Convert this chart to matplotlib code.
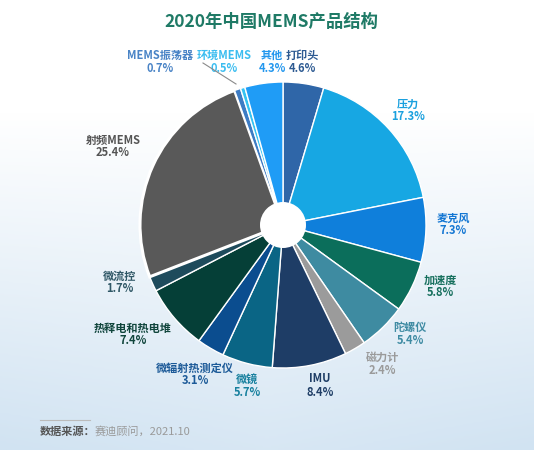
import numpy as np
import matplotlib
matplotlib.use('Agg')
import matplotlib.pyplot as plt
from matplotlib.patches import Circle
from matplotlib.colors import LinearSegmentedColormap

plt.rcParams['font.family'] = ['Noto Sans CJK SC', 'DejaVu Sans']

# ---------------- data ----------------
categories = ['打印头', '压力', '麦克风', '加速度', '陀螺仪', '磁力计', 'IMU', '微镜',
              '微辐射热测定仪', '热释电和热电堆', '微流控', '射频MEMS',
              'MEMS振荡器', '环境MEMS', '其他']
values = [4.6, 17.3, 7.3, 5.8, 5.4, 2.4, 8.4, 5.7, 3.1, 7.4, 1.7, 25.4, 0.7, 0.5, 4.3]

title = '2020年中国MEMS产品结构'
source_bold = '数据来源：'
source_text = '赛迪顾问，2021.10'

# ---------------- styles / layout ----------------
colors = ['#2F66A8', '#17A7E3', '#0F7FDB', '#0B6E5B', '#3E8BA1', '#9B9B9B', '#1E3D66',
          '#0A6585', '#0B4D8F', '#053F37', '#1E4B5C', '#595959', '#3D7CC4', '#35C3F2',
          '#1F9CF6']
label_colors = ['#2D5A92', '#1AA0DE', '#1477D3', '#17705E', '#3F8BA3', '#9A9A9A', '#1F3E66',
                '#17809E', '#1C5A98', '#10453C', '#2F5766', '#555555', '#4A84C6', '#3BBDF0',
                '#2397EE']
# label centre positions in image pixels (x, y of the name line)
label_xy = [(302, 55), (408, 104), (453, 218), (440, 280), (410, 327), (382, 357),
            (320, 379), (247, 379), (195, 368), (133, 328), (120, 276), (113, 140),
            (160, 55), (224, 55), (272, 55)]

W, H = 534, 450
fig = plt.figure(figsize=(W / 100, H / 100), dpi=100)
ax = fig.add_axes([0, 0, 1, 1])

# background gradient
gy = np.linspace(0, 1, 256)[:, None]
gx = np.linspace(-1, 1, 256)[None, :]
grad = np.clip((gy - 0.25) / 0.75, 0, 1) ** 1.0 * (0.85 + 0.15 * np.abs(gx))
bg = LinearSegmentedColormap.from_list('bg', ['#FFFFFF', '#D1E3F2'])
ax.imshow(grad, extent=(0, W, 0, H), origin='upper', cmap=bg, vmin=0, vmax=1,
          aspect='auto', zorder=0)

cx, cy, R = 283, H - 225, 143
wedges, _ = ax.pie(values, colors=colors, startangle=90, counterclock=False,
                   center=(cx, cy), radius=R,
                   wedgeprops=dict(edgecolor='white', linewidth=1.0))
for w in wedges:
    w.set_zorder(2)
wedges[categories.index('射频MEMS')].set_linewidth(2.2)
ax.add_patch(Circle((cx, cy), 23, facecolor='white', edgecolor='none', zorder=3))

for name, val, (lx, ly), c in zip(categories, values, label_xy, label_colors):
    ax.text(lx, H - ly, name, ha='center', va='center', fontsize=8,
            fontweight='bold', color=c, zorder=4)
    ax.text(lx, H - ly - 13, f'{val}%', ha='center', va='center', fontsize=8,
            fontweight='bold', color=c, zorder=4)

# leader line for MEMS振荡器
ax.plot([203, 236], [H - 63, H - 84], color='#8A8A8A', lw=0.8, zorder=4)

# title
ax.text(271, H - 22, title, ha='center', va='center', fontsize=12.5,
        fontweight='bold', color='#1F7A66', zorder=4)

# footer
ax.plot([40, 90], [H - 420, H - 420], color='#BBBBBB', lw=0.8, zorder=4)
ax.text(40, H - 431, source_bold, ha='left', va='center', fontsize=8,
        fontweight='bold', color='#555555', zorder=4)
ax.text(95, H - 431, source_text, ha='left', va='center', fontsize=8,
        color='#9A9A9A', zorder=4)

ax.set_xlim(0, W)
ax.set_ylim(0, H)
ax.set_aspect('auto')
ax.axis('off')

fig.savefig('out.png', dpi=100)
